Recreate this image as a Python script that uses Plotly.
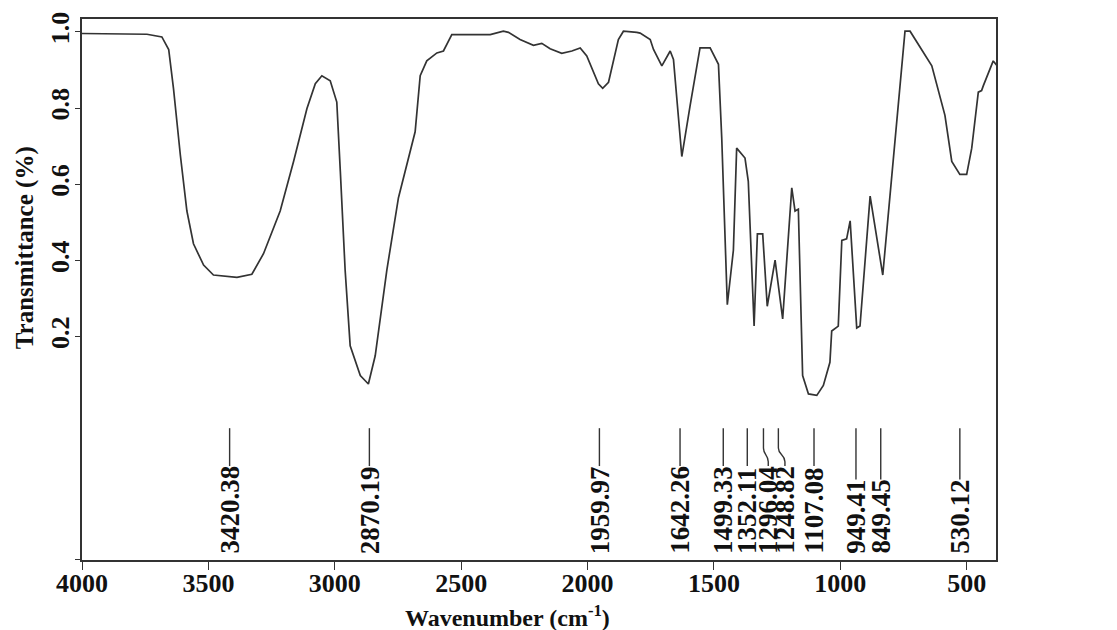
import plotly.graph_objects as go

# ---- spectrum ----
wavenumber = [4000, 3743, 3684, 3657, 3638, 3611, 3585, 3559, 3519, 3480,
              3387, 3328, 3282, 3216, 3163, 3110, 3077, 3051, 3018, 2992,
              2978, 2959, 2939, 2899, 2867, 2840, 2794, 2748, 2682, 2662,
              2636, 2596, 2570, 2537, 2385, 2333, 2313, 2267, 2214, 2181,
              2148, 2102, 2062, 2029, 2003, 1957, 1940, 1917, 1878, 1858,
              1805, 1792, 1752, 1739, 1706, 1673, 1660, 1627, 1594, 1555,
              1515, 1482, 1469, 1447, 1423, 1410, 1377, 1364, 1341, 1328,
              1307, 1289, 1258, 1228, 1192, 1183, 1179, 1166, 1149, 1126,
              1093, 1067, 1041, 1034, 1008, 994, 975, 961, 935, 922,
              882, 832, 790, 764, 744, 724, 638, 586, 559, 527,
              500, 480, 454, 441, 434, 395, 375]
transmittance = [0.996, 0.994, 0.987, 0.954, 0.851, 0.677, 0.530, 0.444, 0.388, 0.362,
                 0.356, 0.364, 0.418, 0.530, 0.660, 0.799, 0.864, 0.885, 0.872, 0.816,
                 0.634, 0.375, 0.176, 0.098, 0.076, 0.150, 0.375, 0.565, 0.738, 0.885,
                 0.924, 0.945, 0.950, 0.993, 0.993, 1.002, 0.999, 0.980, 0.965, 0.970,
                 0.956, 0.944, 0.950, 0.958, 0.937, 0.864, 0.852, 0.868, 0.980, 1.002,
                 0.999, 0.997, 0.980, 0.954, 0.911, 0.950, 0.928, 0.673, 0.807, 0.958,
                 0.958, 0.915, 0.721, 0.284, 0.427, 0.695, 0.669, 0.608, 0.228, 0.470,
                 0.470, 0.280, 0.401, 0.247, 0.591, 0.548, 0.530, 0.535, 0.098, 0.050,
                 0.046, 0.072, 0.133, 0.215, 0.228, 0.453, 0.457, 0.504, 0.223, 0.228,
                 0.569, 0.362, 0.669, 0.851, 1.002, 1.002, 0.911, 0.781, 0.660, 0.626,
                 0.626, 0.695, 0.842, 0.846, 0.859, 0.924, 0.907]

# ---- peak labels ----
peak_labels = ["3420.38", "2870.19", "1959.97", "1642.26", "1499.33", "1352.11",
               "1296.04", "1248.82", "1107.08", "949.41", "849.45", "530.12"]
peak_text_pos = [3416, 2863, 1953, 1634, 1463, 1368, 1285, 1219, 1104, 938, 840, 527]
peak_leader_pos = [3416, 2863, 1953, 1634, 1463, 1368, 1304, 1245, 1104, 938, 840, 527]

x_ticks = [4000, 3500, 3000, 2500, 2000, 1500, 1000, 500]
y_ticks = [-0.385, 0.2, 0.4, 0.6, 0.8, 1.0]
y_ticktext = ["", "0.2", "0.4", "0.6", "0.8", "1.0"]

X_RANGE = [4000, 384]
Y_RANGE = [-0.386, 1.034]
LABEL_BOTTOM = -0.375
LEADER_TOP = -0.04

FONT = "Liberation Serif"
INK = "#111111"
LINE = "#333333"
FS = 26
FS_PEAK = 27

fig = go.Figure()
fig.add_trace(go.Scatter(x=wavenumber, y=transmittance, mode="lines",
                         line=dict(color=LINE, width=1.7), showlegend=False,
                         hoverinfo="skip"))

plot_h = 630 - 13 - 70
px_per_unit = plot_h / (Y_RANGE[1] - Y_RANGE[0])

shapes = []
annotations = []
for lab, tx, lx in zip(peak_labels, peak_text_pos, peak_leader_pos):
    n_digits = sum(c.isdigit() for c in lab)
    text_len_px = FS_PEAK * (0.5 * n_digits + 0.25)
    text_top = LABEL_BOTTOM + (text_len_px + 3) / px_per_unit
    annotations.append(dict(x=tx, y=LABEL_BOTTOM, xref="x", yref="y", text=lab,
                            showarrow=False, textangle=-90, yanchor="bottom",
                            xanchor="center",
                            font=dict(family=FONT, size=FS_PEAK, color=INK, weight="bold")))
    if tx == lx:
        path = f"M {lx},{LEADER_TOP} L {lx},{text_top}"
    else:
        yb1 = LEADER_TOP - 0.052
        yb2 = LEADER_TOP - 0.088
        ym = (yb1 + yb2) / 2
        path = (f"M {lx},{LEADER_TOP} L {lx},{yb1} "
                f"C {lx},{ym} {tx},{ym} {tx},{yb2} L {tx},{text_top}")
    shapes.append(dict(type="path", path=path, xref="x", yref="y",
                       line=dict(color=LINE, width=1.4)))

annotations.append(dict(x=0.466, y=-0.104, xref="paper", yref="paper",
                        xanchor="center", yanchor="middle",
                        text="Wavenumber (cm<sup>-1</sup>)", showarrow=False,
                        font=dict(family=FONT, size=24, color=INK, weight="bold")))
annotations.append(dict(x=-0.063, y=0.577, xref="paper", yref="paper",
                        xanchor="center", yanchor="middle",
                        text="Transmittance (%)", showarrow=False, textangle=-90,
                        font=dict(family=FONT, size=25, color=INK, weight="bold")))

fig.update_layout(
    width=1117, height=630,
    margin=dict(l=82, r=121, t=13, b=70),
    paper_bgcolor="white", plot_bgcolor="white",
    shapes=shapes, annotations=annotations,
    xaxis=dict(range=X_RANGE, tickvals=x_ticks, ticks="outside", ticklen=8,
               tickwidth=1.3, tickcolor=LINE, showline=True, linecolor=LINE,
               linewidth=1.6, mirror=True, showgrid=False, zeroline=False,
               ticklabelstandoff=-9,
               tickfont=dict(family=FONT, size=FS, color=INK, weight="bold")),
    yaxis=dict(range=Y_RANGE, tickvals=y_ticks, ticktext=y_ticktext,
               ticks="outside", ticklen=5, tickwidth=1.3, tickcolor=LINE,
               showline=True, linecolor=LINE, linewidth=1.6, mirror=True,
               showgrid=False, zeroline=False, tickangle=-90,
               ticklabelstandoff=-4,
               tickfont=dict(family=FONT, size=FS, color=INK, weight="bold")),
)

fig.write_html("out.html")
